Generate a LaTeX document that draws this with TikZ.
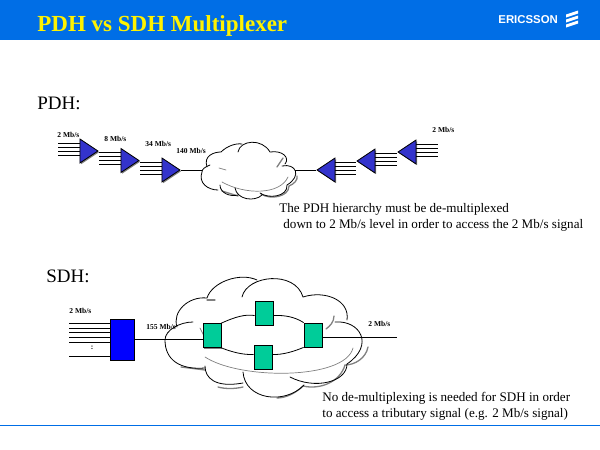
\documentclass[tikz,border=0pt]{standalone}
\usepackage{fontspec}
\setmainfont{Liberation Serif}
\newfontfamily\logofont{Liberation Sans}
\usetikzlibrary{calc,shadows,shapes.geometric}
\definecolor{headerblue}{RGB}{0,110,230}
\definecolor{muxblue}{RGB}{51,51,204}
\definecolor{admgreen}{RGB}{0,204,153}
\tikzset{
  muxright/.style={draw, fill=muxblue, isosceles triangle, isosceles triangle stretches,
    minimum width=24pt, minimum height=18pt, inner sep=0pt, anchor=apex,
    general shadow={shadow xshift=1.2pt, shadow yshift=-1.2pt, fill=gray}},
  muxleft/.style={muxright, shape border rotate=180},
  adm/.style={draw, fill=admgreen, minimum width=18pt, minimum height=24pt, inner sep=0pt,
    general shadow={shadow xshift=1pt, shadow yshift=-1pt, fill=gray}},
  rate/.style={font=\fontsize{7.5}{7.5}\selectfont\bfseries, inner sep=0pt, anchor=west},
  note/.style={font=\fontsize{13.1}{13.1}\selectfont, inner sep=0pt, anchor=west},
  heading/.style={font=\fontsize{19}{19}\selectfont, inner sep=0pt, anchor=west},
  cloudline/.style={line width=0.8pt, line cap=round},
  cloudshade/.style={gray, line width=1.3pt, line cap=round},
  cloudfaint/.style={gray, line width=0.7pt, line cap=round},
}
\begin{document}
\begin{tikzpicture}[x=1pt, y=-1pt, line width=0.8pt]
  \useasboundingbox (0,0) rectangle (600,450);
  \fill[headerblue] (0,0) rectangle (600,40);
  \fill[headerblue] (0,424.5) rectangle (600,425.5);
  \node[inner sep=0pt, anchor=west, text=yellow, font=\fontsize{23}{23}\selectfont\bfseries] (title) at (37,26) {PDH vs SDH Multiplexer};
  \node[inner sep=0pt, anchor=west, text=white, font=\logofont\fontsize{11.4}{11.4}\selectfont\bfseries] (logo) at (498,19.5) {ERICSSON};
  \foreach \y in {13,18,23}
    \fill[white] (566,\y+1.5) -- (578,\y-2.5) -- (578,\y+0.5) -- (566,\y+4.5) -- cycle;

  \node[heading] (pdh) at (37,103) {PDH:};
  \node[heading] (sdh) at (46,276) {SDH:};

  \node[muxright] (muxA) at (99,151) {};
  \node[muxright] (muxB) at (140,160.5) {};
  \node[muxright] (muxC) at (181,170) {};
  \node[muxleft] (demuxC) at (316,170) {};
  \node[muxleft] (demuxB) at (356,161) {};
  \node[muxleft] (demuxA) at (397,152) {};
  \coordinate (pdhin) at (58,151);
  \coordinate (pdhout) at (438,152);
  \coordinate (pdhcloudW) at (202,170);
  \coordinate (pdhcloudE) at (295,170);
  \foreach \dy in {-8,-4,0,4} {
    \draw ($(muxA.lower side)+(0,\dy)$) -- ($(pdhin)+(0,\dy)$);
    \draw ($(muxB.lower side)+(0,\dy)$) -- (muxA.apex |- {$(muxB.lower side)+(0,\dy)$});
    \draw ($(muxC.lower side)+(0,\dy)$) -- (muxB.apex |- {$(muxC.lower side)+(0,\dy)$});
    \draw ($(demuxC.lower side)+(0,\dy)$) -- (demuxB.apex |- {$(demuxC.lower side)+(0,\dy)$});
    \draw ($(demuxB.lower side)+(0,\dy)$) -- (demuxA.apex |- {$(demuxB.lower side)+(0,\dy)$});
    \draw ($(demuxA.lower side)+(0,\dy)$) -- ($(pdhout)+(0,\dy)$);
  }
  \draw (muxC.apex) -- (pdhcloudW);
  \draw (pdhcloudE) -- (demuxC.apex);

  \draw[cloudshade] (289,186) .. controls (289,197) and (270,200) .. (261,194);
  \draw[cloudshade] (297,176) .. controls (298,180) and (294,184) .. (289,186);
  \draw[cloudshade] (283,158) -- (277,167);
  \draw[cloudshade] (238,196) -- (222,191);
  \draw[cloudfaint] (222,182) .. controls (245,195) and (280,195) .. (288,177);
  \draw[cloudfaint] (219,168) -- (226,170);
  \draw[cloudline] (207,167) .. controls (203,155) and (215,152) .. (221,152)
    .. controls (227,146) and (236,143) .. (242,144);
  \draw[cloudline] (238,152) .. controls (240,140) and (262,138) .. (270,152)
    .. controls (283,150) and (290,158) .. (285,164);
  \draw[cloudline] (282,166) .. controls (296,163) and (302,176) .. (287,185)
    .. controls (288,197) and (268,199) .. (260,193);
  \draw[cloudline] (262,195) .. controls (255,202) and (237,200) .. (235,188);
  \draw[cloudline] (238,195) .. controls (230,197) and (220,193) .. (220,185);
  \draw[cloudline] (218,190) .. controls (208,190) and (198,183) .. (202,172)
    .. controls (202,169) and (205,167) .. (210,165);

  \node[rate] (rateA) at (57,135) {2 Mb/s};
  \node[rate] (rateB) at (104,139) {8 Mb/s};
  \node[rate] (rateC) at (145,144) {34 Mb/s};
  \node[rate] (rateD) at (176,151) {140 Mb/s};
  \node[rate] (rateE) at (432,130) {2 Mb/s};

  \node[note] (pdhnoteA) at (279,209) {The PDH hierarchy must be de-multiplexed};
  \node[note] (pdhnoteB) at (283,225) {down to 2 Mb/s level in order to access the 2 Mb/s signal};

  \draw[cloudshade] (181,367) -- (205,370);
  \draw[cloudshade] (218,387) .. controls (225,389) and (235,389) .. (243,387);
  \draw[cloudshade] (277,398) .. controls (287,398) and (297,392) .. (303,386)
    .. controls (320,390) and (340,382) .. (345,365)
    .. controls (355,365) and (366,358) .. (368,347);
  \draw[cloudshade] (207,300) -- (215,300);
  \draw[cloudshade] (334,316) .. controls (334,322) and (330,326) .. (326,329);
  \draw[cloudfaint] (205,357) .. controls (240,380) and (345,380) .. (353,348);
  \draw[cloudfaint] (200,328) -- (204,336);
  \draw[cloudline] (177,327) .. controls (172,312) and (188,296) .. (207,298)
    .. controls (212,282) and (240,272) .. (257,280);
  \draw[cloudline] (242,297) .. controls (247,275) and (295,270) .. (303,297)
    .. controls (325,290) and (350,300) .. (347,320);
  \draw[cloudline] (335,322) .. controls (360,320) and (375,345) .. (347,364)
    .. controls (347,382) and (315,390) .. (290,377);
  \draw[cloudline] (304,385) .. controls (285,405) and (245,400) .. (243,372);
  \draw[cloudline] (243,383) .. controls (215,388) and (205,378) .. (205,366);
  \draw[cloudline] (205,368) .. controls (180,370) and (165,360) .. (165,340)
    .. controls (165,330) and (180,322) .. (193,322);

  \node[draw, fill=blue, minimum width=24pt, minimum height=41pt, inner sep=0pt,
    general shadow={shadow xshift=1pt, shadow yshift=-1pt, fill=gray}] (sdhmux) at (122,339.5) {};
  \foreach \ly in {323,328,332,337,342,356}
    \draw (sdhmux.west |- 0,\ly) -- (69,\ly);
  \node[rate] (dots) at (90.5,348) {:};

  \node[adm] (admL) at (212,335.5) {};
  \node[adm] (admT) at (264,313) {};
  \node[adm] (admB) at (263,357) {};
  \node[adm] (admR) at (313,335) {};
  \coordinate (sdhout) at (397,337);
  \draw (sdhmux) -- (admL.west |- sdhmux);
  \draw (admR.east |- sdhout) -- (sdhout);
  \draw (admL.north east) .. controls (235,317) and (245,314) .. (admT.195);
  \draw (admT.345) .. controls (285,315) and (295,317) .. (admR.north west);
  \draw (admL.south east) .. controls (232,352) and (243,355) .. (admB.165);
  \draw (admB.15) .. controls (283,355) and (295,351) .. (admR.south west);

  \node[rate] (rateF) at (69,311) {2 Mb/s};
  \node[rate] (rateG) at (146,327) {155 Mb/s};
  \node[rate] (rateH) at (368,324) {2 Mb/s};

  \node[note] (sdhnoteA) at (322,398) {No de-multiplexing is needed for SDH in order};
  \node[note] (sdhnoteB) at (322,414) {to access a tributary signal (e.g. 2 Mb/s signal)};
\end{tikzpicture}
\end{document}
